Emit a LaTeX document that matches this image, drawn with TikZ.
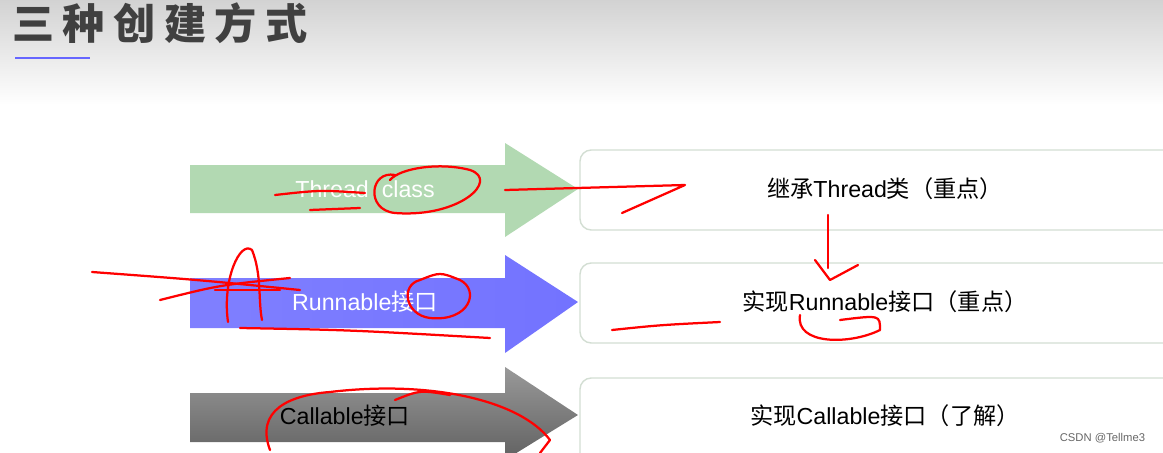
\documentclass[tikz,border=0pt]{standalone}
\usepackage{fontspec}
\setmainfont{Liberation Sans}
\newfontfamily\cjk{Noto Sans CJK SC}
\begin{document}
\begin{tikzpicture}[x=0.025cm,y=-0.025cm,
  box/.style={draw=green!15!gray!30,line width=1pt,rounded corners=8pt,fill=white},
  lbl/.style={font=\fontsize{16.5}{18}\selectfont},
  red/.style={draw=red,line width=1.6pt,line cap=round,line join=round}]
\useasboundingbox (0,0) rectangle (1163,453);
\shade[top color=gray!35,bottom color=white] (0,0) rectangle (1163,105);
\node[anchor=west,font=\cjk\fontsize{30}{34}\bfseries\selectfont,text=black!75,inner sep=0pt] (title) at (12,23) {三\hspace{6pt}种\hspace{6pt}创\hspace{6pt}建\hspace{6pt}方\hspace{6pt}式};
\draw[blue!60,line width=1.5pt] (15,58) -- (90,58);
% arrows
\fill[green!50!black!30!white] (190,165) -- (505,165) -- (505,143) -- (578,189) -- (505,237) -- (505,213) -- (190,213) -- cycle;
\shade[left color=blue!50!white,right color=blue!55!white] (190,278) -- (505,278) -- (505,255) -- (578,302) -- (505,353) -- (505,328) -- (190,328) -- cycle;
\shade[top color=black!40,bottom color=black!62] (190,393) -- (505,393) -- (505,367) -- (578,415) -- (505,460) -- (505,442) -- (190,442) -- cycle;
\node[lbl,text=white] (a1) at (365,189) {Thread\ \ class};
\node[lbl,text=white] (a2) at (365,302) {Runnable{\cjk 接口}};
\node[lbl,text=black] (a3) at (345,416) {Callable{\cjk 接口}};
% boxes
\draw[box] (580,150) rectangle (1175,230);
\draw[box] (580,263) rectangle (1175,343);
\draw[box] (580,378) rectangle (1175,470);
\node[lbl] (b1) at (885,189) {{\cjk 继承}Thread{\cjk 类（重点）}};
\node[lbl] (b2) at (885,302) {{\cjk 实现}Runnable{\cjk 接口（重点）}};
\node[lbl] (b3) at (885,416) {{\cjk 实现}Callable{\cjk 接口（了解）}};
\node[font=\fontsize{8}{9}\selectfont,text=black!60,anchor=east] (wm) at (1150,438) {CSDN @Tellme3};
% red scribbles
\draw[red] (275,195) .. controls (320,190) .. (365,193);
\draw[red] (310,210) -- (360,208);
\draw[red] (395,175) .. controls (370,170) and (365,210) .. (395,213) .. controls (460,218) and (500,180) .. (470,170) .. controls (440,162) and (400,168) .. (390,180);
\draw[red] (505,190) -- (685,185) -- (622,213);
\draw[red] (828,215) -- (828,268);
\draw[red] (815,260) -- (830,280) -- (858,265);
\draw[red] (92,272) .. controls (200,280) .. (300,290);
\draw[red] (160,300) .. controls (220,285) .. (290,278);
\draw[red] (228,322) .. controls (222,280) and (240,240) .. (252,250) .. controls (262,275) and (258,300) .. (262,320);
\draw[red] (215,290) -- (280,290);
\draw[red] (420,280) .. controls (400,285) and (405,315) .. (430,318) .. controls (470,322) and (480,290) .. (460,280) .. controls (440,272) .. (420,280);
\draw[red] (240,328) .. controls (350,330) .. (490,338);
\draw[red] (612,330) .. controls (660,325) .. (720,322);
\draw[red] (800,315) .. controls (795,345) and (850,345) .. (880,330) .. controls (880,315) .. (840,320);
\draw[red] (270,450) .. controls (255,410) and (290,395) .. (330,392) .. controls (430,380) and (520,400) .. (550,440) -- (540,453);
\draw[red] (395,400) .. controls (420,390) .. (450,395);
\end{tikzpicture}
\end{document}
